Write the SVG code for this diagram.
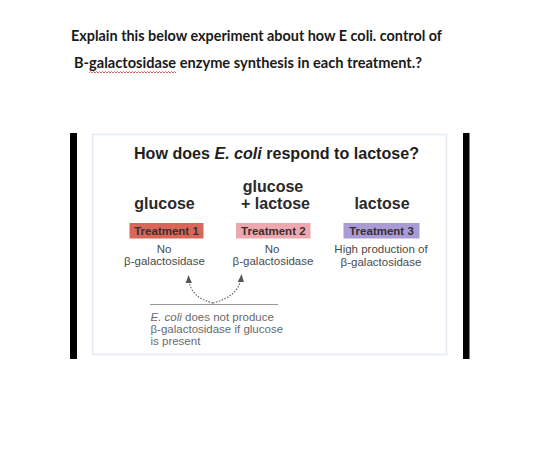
<svg xmlns="http://www.w3.org/2000/svg" width="540" height="452" viewBox="0 0 540 452">
<style>
.q{font-family:Lato,"Liberation Sans",sans-serif;font-weight:bold;font-size:15.5px;fill:#1a1a1a}
.f{font-family:"Liberation Sans",Arial,sans-serif}
.ttl{font-size:16px;font-weight:bold;fill:#1e1e1e}
.col{font-size:16px;font-weight:bold;fill:#2a2a2a;text-anchor:middle}
.tr{font-size:11.5px;font-weight:bold;fill:#3a2e2e;text-anchor:middle}
.res{font-size:11.5px;fill:#4a4a4a;text-anchor:middle}
.note{font-size:11.5px;fill:#6a6a6a}
</style>
<defs>
<marker id="ah" viewBox="0 0 10 10" refX="9" refY="5" markerWidth="8" markerHeight="8" orient="auto-start-reverse" markerUnits="userSpaceOnUse">
<path d="M0,1 L10,5 L0,9 Z" fill="#555"/>
</marker>
</defs>
<rect width="540" height="452" fill="#ffffff"/>
<g id="question">
<text class="q" x="71" y="41" textLength="371" lengthAdjust="spacingAndGlyphs">Explain this below experiment about how E coli. control of</text>
<text class="q" x="74" y="68" textLength="348" lengthAdjust="spacingAndGlyphs">B-galactosidase enzyme synthesis in each treatment.?</text>
<path d="M89,73 l1.5,-1.5 l1.5,1.5 l1.5,-1.5 l1.5,1.5 l1.5,-1.5 l1.5,1.5 l1.5,-1.5 l1.5,1.5 l1.5,-1.5 l1.5,1.5 l1.5,-1.5 l1.5,1.5 l1.5,-1.5 l1.5,1.5 l1.5,-1.5 l1.5,1.5 l1.5,-1.5 l1.5,1.5 l1.5,-1.5 l1.5,1.5 l1.5,-1.5 l1.5,1.5 l1.5,-1.5 l1.5,1.5 l1.5,-1.5 l1.5,1.5 l1.5,-1.5 l1.5,1.5 l1.5,-1.5 l1.5,1.5 l1.5,-1.5 l1.5,1.5 l1.5,-1.5 l1.5,1.5 l1.5,-1.5 l1.5,1.5 l1.5,-1.5 l1.5,1.5 l1.5,-1.5 l1.5,1.5 l1.5,-1.5 l1.5,1.5 l1.5,-1.5 l1.5,1.5 l1.5,-1.5 l1.5,1.5 l1.5,-1.5 l1.5,1.5 l1.5,-1.5 l1.5,1.5 l1.5,-1.5 l1.5,1.5 l1.5,-1.5 l1.5,1.5 l1.5,-1.5 l1.5,1.5 l1.5,-1.5 l1.5,1.5" fill="none" stroke="#d04040" stroke-width="0.8"/>
</g>
<g id="bars">
<rect x="70" y="133" width="7" height="226" fill="#000"/>
<rect x="463" y="133" width="6.5" height="226" fill="#000"/>
</g>
<g id="figure">
<rect x="92.5" y="134.5" width="354" height="220" fill="#ffffff" stroke="#e4ebf4" stroke-width="1.6"/>
<text class="f ttl" x="134" y="159" textLength="285" lengthAdjust="spacingAndGlyphs">How does <tspan font-style="italic">E. coli</tspan> respond to lactose?</text>
</g>
<g id="col1">
<text class="f col" x="164.5" y="209">glucose</text>
<rect x="129.5" y="223" width="74" height="15.5" fill="#d8675a"/>
<text class="f tr" x="166.5" y="235">Treatment 1</text>
<text class="f res" x="164" y="253">No</text>
<text class="f res" x="164.5" y="265">β-galactosidase</text>
</g>
<g id="col2">
<text class="f col" x="273" y="192">glucose</text>
<text class="f col" x="275.5" y="209">+ lactose</text>
<rect x="236" y="223" width="74.5" height="15.5" fill="#eca8ae"/>
<text class="f tr" x="273.3" y="235">Treatment 2</text>
<text class="f res" x="272" y="253">No</text>
<text class="f res" x="273" y="265">β-galactosidase</text>
</g>
<g id="col3">
<text class="f col" x="382" y="209">lactose</text>
<rect x="343.5" y="223" width="76" height="15.5" fill="#a99bd6"/>
<text class="f tr" x="381.5" y="235">Treatment 3</text>
<text class="f res" x="381" y="253">High production of</text>
<text class="f res" x="381" y="265.5">β-galactosidase</text>
</g>
<g id="note">
<line x1="150" y1="304.5" x2="278" y2="304.5" stroke="#9a9a9a" stroke-width="1"/>
<text class="f note" x="150.5" y="321"><tspan font-style="italic">E. coli</tspan> does not produce</text>
<text class="f note" x="150.5" y="333">β-galactosidase if glucose</text>
<text class="f note" x="150.5" y="345">is present</text>
</g>
<g id="connectors">
<path d="M213,303 C198,299 189,292 188.5,276" fill="none" stroke="#666" stroke-width="1.2" stroke-dasharray="1.5 1.5" marker-end="url(#ah)"/>
<path d="M213,303 C228,299 240,292 241.5,275" fill="none" stroke="#666" stroke-width="1.2" stroke-dasharray="1.5 1.5" marker-end="url(#ah)"/>
</g>
</svg>
